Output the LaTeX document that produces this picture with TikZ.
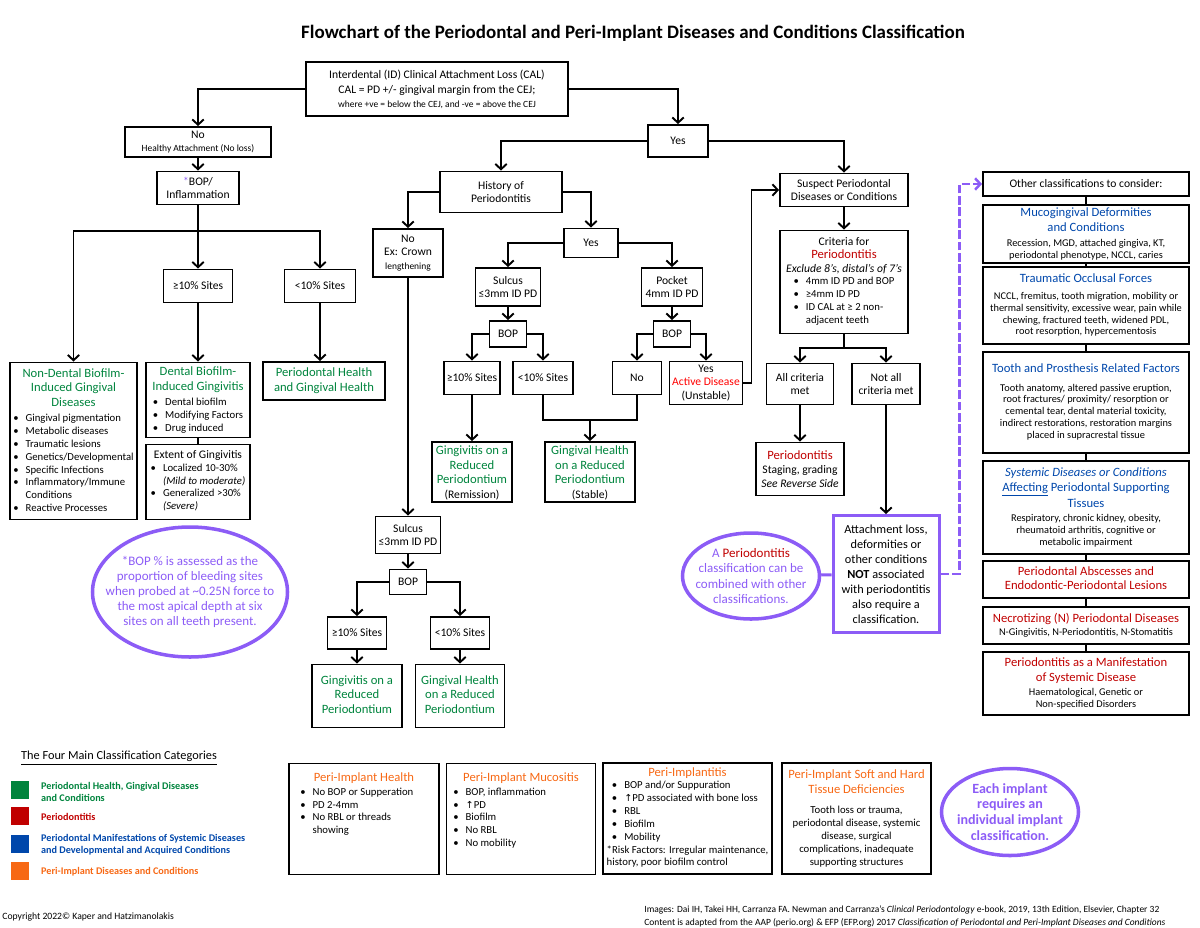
\documentclass[tikz,border=0pt]{standalone}
\usepackage{fontspec}
\setmainfont{Carlito}
\newfontfamily\arrowfont{DejaVu Sans}
\usetikzlibrary{arrows.meta,shapes.geometric}

\definecolor{healthgreen}{RGB}{0,132,61}
\definecolor{periored}{RGB}{192,0,0}
\definecolor{systblue}{RGB}{0,71,171}
\definecolor{implorange}{RGB}{247,104,20}
\definecolor{notepurple}{RGB}{140,92,246}
\definecolor{alarmred}{RGB}{255,0,0}

\newcommand{\headsize}{\fontsize{7.2}{8.4}\selectfont}
\newcommand{\listsize}{\fontsize{6.1}{7.3}\selectfont}
\newcommand{\notesize}{\fontsize{5.9}{6.8}\selectfont}
\newcommand{\finesize}{\fontsize{5.4}{6.4}\selectfont}
\newcommand{\bul}{\makebox[7pt][l]{\textbullet}}
\newcommand{\indt}{\hspace*{7pt}}
\newcommand{\uparr}{{\arrowfont\fontsize{5.5}{6}\selectfont ↑}}
\newcommand{\heading}[2]{\textcolor{#1}{\headsize\begin{tabular}{@{}c@{}}#2\end{tabular}}}
\newcommand{\items}[1]{{\listsize\begin{tabular}{@{}l@{}}#1\end{tabular}}}
\newcommand{\details}[2][\notesize]{{#1\begin{tabular}{@{}c@{}}#2\end{tabular}}}

\begin{document}
\begin{tikzpicture}[x=0.02cm, y=-0.02cm, >={Straight Barb[length=3pt,width=6.5pt]},
  every node/.style={font=\fontsize{6.6}{7.8}\selectfont},
  box/.style={draw, line width=1.1pt, align=center, inner sep=1pt},
  boxsize/.style 2 args={minimum width=#1*0.02cm, minimum height=#2*0.02cm},
  link/.style={line width=1.1pt},
  flow/.style={->, line width=1.1pt},
  oval/.style={ellipse, draw=notepurple, line width=2pt, text=notepurple,
               align=center, inner xsep=-14pt, inner ysep=-3pt},
  key/.style={minimum size=18*0.02cm, inner sep=0pt}]
\useasboundingbox (0,0) rectangle (1200,927);

\node[font=\fontsize{10.8}{12}\selectfont\bfseries] (title) at (633,33)
  {Flowchart of the Periodontal and Peri-Implant Diseases and Conditions Classification};

% first question
\node[box, boxsize={262}{54}] (cal) at (437,89)
  {Interdental (ID) Clinical Attachment Loss (CAL)\\[1pt]
   CAL = PD +/- gingival margin from the CEJ;\\
   {\finesize where +ve = below the CEJ, and -ve = above the CEJ}};
\node[box, boxsize={146}{30}] (noloss) at (198,142)
  {No\\{\finesize Healthy Attachment (No loss)}};
\node[box, boxsize={60}{32}] (yesloss) at (678,141) {Yes};

% healthy attachment branch
\node[box, boxsize={82}{33}] (bop) at (198,188) {\textcolor{notepurple}{*}BOP/\\Inflammation};
\coordinate (bopsplit) at (198,231);
\node[box, boxsize={69}{33}] (manyA) at (198,286) {≥10\% Sites};
\node[box, boxsize={71}{33}] (fewA) at (320,286) {<10\% Sites};
\node[box, boxsize={127}{157}] (nondental) at (73.5,441)
  {\heading{healthgreen}{Non-Dental Biofilm-\\Induced Gingival\\Diseases}\\
   \items{\bul Gingival pigmentation\\ \bul Metabolic diseases\\ \bul Traumatic lesions\\
          \bul Genetics/Developmental\\ \bul Specific Infections\\ \bul Inflammatory/Immune\\
          \indt Conditions\\ \bul Reactive Processes}};
\node[box, boxsize={104}{75}] (dental) at (198,400)
  {\heading{healthgreen}{Dental Biofilm-\\Induced Gingivitis}\\
   \items{\bul Dental biofilm\\ \bul Modifying Factors\\ \bul Drug induced}};
\node[box, boxsize={104}{75}] (extent) at (198,482)
  {Extent of Gingivitis\\
   \items{\bul Localized 10-30\%\\ \indt\textit{(Mild to moderate)}\\
          \bul Generalized >30\%\\ \indt\textit{(Severe)}}};
\node[box, boxsize={122}{38}, text=healthgreen, font=\headsize] (gumhealth) at (324,381)
  {Periodontal Health\\and Gingival Health};

% attachment loss branch
\node[box, boxsize={122}{41}] (history) at (501,192) {History of\\Periodontitis};
\node[box, boxsize={70}{48}] (nohistory) at (408,253)
  {No\\Ex: Crown\\{\finesize lengthening}};
\node[box, boxsize={54}{29}] (yeshistory) at (591,243) {Yes};
\node[box, boxsize={65}{38}] (sulcusA) at (508,287) {Sulcus\\≤3mm ID PD};
\node[box, boxsize={61}{38}] (pocket) at (672,287) {Pocket\\4mm ID PD};
\node[box, boxsize={37}{26}] (bopA) at (508,334) {BOP};
\node[box, boxsize={37}{26}] (bopB) at (672,334) {BOP};
\node[box, boxsize={56}{33}] (manyB) at (472,378) {≥10\% Sites};
\node[box, boxsize={60}{33}] (fewB) at (543,378) {<10\% Sites};
\node[box, boxsize={49}{33}] (nobleed) at (637,378) {No};
\node[box, boxsize={73}{43}] (active) at (706,383)
  {Yes\\\textcolor{alarmred}{Active Disease}\\(Unstable)};
\coordinate (stablejoin) at (590,420);
\node[box, boxsize={80}{60}] (remission) at (472,472)
  {\heading{healthgreen}{Gingivitis on a\\Reduced\\Periodontium}\\(Remission)};
\node[box, boxsize={90}{60}] (stable) at (590,472)
  {\heading{healthgreen}{Gingival Health\\on a Reduced\\Periodontium}\\(Stable)};

% no history of periodontitis
\node[box, boxsize={65}{37}] (sulcusC) at (408,535) {Sulcus\\≤3mm ID PD};
\node[box, boxsize={37}{25}] (bopC) at (408,582) {BOP};
\node[box, boxsize={59}{32}] (manyC) at (357,633) {≥10\% Sites};
\node[box, boxsize={59}{32}] (fewC) at (460,633) {<10\% Sites};
\node[box, boxsize={90}{63}] (remissionC) at (357,696)
  {\heading{healthgreen}{Gingivitis on a\\Reduced\\Periodontium}};
\node[box, boxsize={89}{63}] (stableC) at (460,696)
  {\heading{healthgreen}{Gingival Health\\on a Reduced\\Periodontium}};
\node[oval, minimum width=195*0.02cm, minimum height=130*0.02cm, inner xsep=-24pt,
      font=\fontsize{7.4}{8.6}\selectfont] (bopnote) at (190,592)
  {*BOP \% is assessed as the\\proportion of bleeding sites\\
   when probed at \textasciitilde0.25N force to\\the most apical depth at six\\
   sites on all teeth present.};

% suspected disease
\node[box, boxsize={128}{33}] (suspect) at (844,190) {Suspect Periodontal\\Diseases or Conditions};
\node[box, boxsize={128}{103}] (criteria) at (844,282)
  {Criteria for\\\textcolor{periored}{\headsize Periodontitis}\\
   \textit{Exclude 8's, distal's of 7's}\\
   \items{\bul 4mm ID PD and BOP\\ \bul ≥4mm ID PD\\ \bul ID CAL at ≥ 2 non-\\ \indt adjacent teeth}};
\coordinate (critsplit) at (844,348);
\node[box, boxsize={67}{41}] (allmet) at (800,384) {All criteria\\met};
\node[box, boxsize={68}{41}] (notall) at (886,384) {Not all\\criteria met};
\node[box, boxsize={88}{53}] (staging) at (800,469)
  {\textcolor{periored}{\headsize Periodontitis}\\Staging, grading\\\textit{See Reverse Side}};
\node[box, draw=notepurple, line width=1.7pt, boxsize={106}{117},
      font=\fontsize{7}{8.5}\selectfont] (attach) at (886,574)
  {Attachment loss,\\deformities or\\other conditions\\\textbf{NOT} associated\\
   with periodontitis\\also require a\\classification.};
\node[oval, minimum width=137*0.02cm, minimum height=86*0.02cm,
      font=\fontsize{7.4}{8.7}\selectfont] (combine) at (751,576)
  {A \textcolor{periored}{Periodontitis}\\classification can be\\combined with other\\classifications.};

% other classifications
\node[box, boxsize={206}{24}] (other) at (1086,184) {Other classifications to consider:};
\node[box, boxsize={206}{54}] (muco) at (1086,234)
  {\heading{systblue}{Mucogingival Deformities\\and Conditions}\\
   \details{Recession, MGD, attached gingiva, KT,\\periodontal phenotype, NCCL, caries}};
\node[box, boxsize={206}{77}] (trauma) at (1086,305.5)
  {\heading{systblue}{Traumatic Occlusal Forces}\\[1pt]
   \details{NCCL, fremitus, tooth migration, mobility or\\thermal sensitivity, excessive wear, pain while\\
            chewing, fractured teeth, widened PDL,\\root resorption, hypercementosis}};
\node[box, boxsize={206}{101}] (prosth) at (1086,402.5)
  {\heading{systblue}{Tooth and Prosthesis Related Factors}\\[2pt]
   \details{Tooth anatomy, altered passive eruption,\\root fractures/ proximity/ resorption or\\
            cemental tear, dental material toxicity,\\indirect restorations, restoration margins\\
            placed in supracrestal tissue}};
\node[box, boxsize={206}{93}] (systemic) at (1086,507.5)
  {\heading{systblue}{\textit{Systemic Diseases or Conditions}\\
                      \underline{Affecting} Periodontal Supporting\\Tissues}\\
   \details{Respiratory, chronic kidney, obesity,\\rheumatoid arthritis, cognitive or\\metabolic impairment}};
\node[box, boxsize={206}{37}] (abscess) at (1086,579.5)
  {\heading{periored}{Periodontal Abscesses and\\Endodontic-Periodontal Lesions}};
\node[box, boxsize={206}{37}] (necro) at (1086,625.5)
  {\heading{periored}{Necrotizing (N) Periodontal Diseases}\\
   \details{N-Gingivitis, N-Periodontitis, N-Stomatitis}};
\node[box, boxsize={206}{63}] (manifest) at (1086,683.5)
  {\heading{periored}{Periodontitis as a Manifestation\\of Systemic Disease}\\
   \details{Haematological, Genetic or\\Non-specified Disorders}};

% connectors
\draw[flow] (cal.west) -| (noloss.north);
\draw[flow] (cal.east) -| (yesloss.north);
\draw[flow] (noloss) -- (bop);
\draw[link] (bop) -- (bopsplit);
\draw[flow] (bopsplit) -| (nondental.north);
\draw[flow] (bopsplit) -- (manyA);
\draw[flow] (bopsplit) -| (fewA.north);
\draw[flow] (manyA) -- (dental);
\draw[flow] (fewA.south) -- (fewA.south |- gumhealth.north);
\draw[link] (dental) -- (extent);
\draw[flow] (yesloss.west) -| (history.north);
\draw[flow] (yesloss.east) -| (suspect.north);
\draw[flow] (history.west) -| (nohistory.north);
\draw[flow] (history.east) -| (yeshistory.north);
\draw[flow] (yeshistory.west) -| (sulcusA.north);
\draw[flow] (yeshistory.east) -| (pocket.north);
\draw[flow] (sulcusA) -- (bopA);
\draw[flow] (pocket) -- (bopB);
\draw[flow] (bopA.west) -| (manyB.north);
\draw[flow] (bopA.east) -| (fewB.north);
\draw[flow] (bopB.west) -| (nobleed.north);
\draw[flow] (bopB.east) -| (active.north);
\draw[flow] (manyB) -- (remission);
\draw[link] (fewB.south) |- (stablejoin) -| (nobleed.south);
\draw[flow] (stablejoin) -- (stable);
\draw[flow] (active.east) -- ++(8,0) |- (suspect.west);
\draw[flow] (nohistory) -- (sulcusC);
\draw[flow] (sulcusC) -- (bopC);
\draw[flow] (bopC.west) -| (manyC.north);
\draw[flow] (bopC.east) -| (fewC.north);
\draw[flow] (manyC) -- (remissionC);
\draw[flow] (fewC) -- (stableC);
\draw[flow] (suspect) -- (criteria);
\draw[link] (criteria) -- (critsplit);
\draw[flow] (critsplit) -| (allmet.north);
\draw[flow] (critsplit) -| (notall.north);
\draw[flow] (allmet) -- (staging);
\draw[flow] (notall) -- (attach);
\draw[notepurple, line width=1.7pt] (combine) -- (attach);
\draw[flow, notepurple, line width=1.4pt, dash pattern=on 5pt off 1.5pt]
  (attach.east) -- ++(19,0) |- (other.west);
\foreach \a/\b in {other/muco, muco/trauma, trauma/prosth, prosth/systemic,
                   systemic/abscess, abscess/necro, necro/manifest}
  \draw[link] (\a) -- (\b);

% legend
\node[anchor=west, font=\fontsize{7}{8}\selectfont] (keytitle) at (15,758)
  {\underline{The Four Main Classification Categories}};
\node[key, fill=healthgreen] (keygreen) at (20,790) {};
\node[key, fill=periored] (keyred) at (20,816) {};
\node[key, fill=systblue] (keyblue) at (20,843.5) {};
\node[key, fill=implorange] (keyorange) at (20,871) {};
\node[anchor=west, align=left, text=healthgreen, font=\fontsize{5.8}{6.9}\selectfont\bfseries]
  (txtgreen) at (35,792) {Periodontal Health, Gingival Diseases\\and Conditions};
\node[anchor=west, align=left, text=periored, font=\fontsize{5.8}{6.9}\selectfont\bfseries]
  (txtred) at (35,817) {Periodontitis};
\node[anchor=west, align=left, text=systblue, font=\fontsize{5.8}{6.9}\selectfont\bfseries]
  (txtblue) at (35,845) {Periodontal Manifestations of Systemic Diseases\\and Developmental and Acquired Conditions};
\node[anchor=west, align=left, text=implorange, font=\fontsize{5.8}{6.9}\selectfont\bfseries]
  (txtorange) at (35,872) {Peri-Implant Diseases and Conditions};

% peri-implant boxes
\node[box, boxsize={150}{111}] (implhealth) at (364,819) {};
\node[anchor=north, text=implorange, font=\headsize] (implhealthhead) at ([yshift=-2pt]implhealth.north)
  {Peri-Implant Health};
\node[anchor=north west, inner sep=0pt] (implhealthlist) at (300,786)
  {\items{\bul No BOP or Supperation\\ \bul PD 2-4mm\\ \bul No RBL or threads\\ \indt showing}};
\node[box, boxsize={149}{111}] (mucositis) at (521,819) {};
\node[anchor=north, text=implorange, font=\headsize] (mucositishead) at ([yshift=-2pt]mucositis.north)
  {Peri-Implant Mucositis};
\node[anchor=north west, inner sep=0pt] (mucositislist) at (453,786)
  {\items{\bul BOP, inflammation\\ \bul \uparr PD\\ \bul Biofilm\\ \bul No RBL\\ \bul No mobility}};
\node[box, boxsize={169}{111}] (implantitis) at (687.5,818.5)
  {\textcolor{implorange}{\headsize Peri-Implantitis}\\
   \items{\hspace*{3pt}\bul BOP and/or Suppuration\\ \hspace*{3pt}\bul \uparr PD associated with bone loss\\
          \hspace*{3pt}\bul RBL\\ \hspace*{3pt}\bul Biofilm\\ \hspace*{3pt}\bul Mobility\\
          {*}Risk Factors: Irregular maintenance,\\ history, poor biofilm control}};
\node[box, boxsize={149}{111}] (deficiency) at (856.5,818.5)
  {\heading{implorange}{Peri-Implant Soft and Hard\\Tissue Deficiencies}\\[3pt]
   \details[\listsize]{Tooth loss or trauma,\\periodontal disease, systemic\\disease, surgical\\
                       complications, inadequate\\supporting structures}};
\node[oval, minimum width=137*0.02cm, minimum height=87*0.02cm,
      font=\fontsize{8}{9}\selectfont\bfseries] (eachimplant) at (1010,812)
  {Each implant\\requires an\\individual implant\\classification.};

% footer
\node[anchor=west, inner sep=0pt, font=\fontsize{5.5}{6.5}\selectfont] (copyright) at (2,917)
  {Copyright 2022© Kaper and Hatzimanolakis};
\node[anchor=west, align=left, inner sep=0pt, font=\fontsize{5.4}{7.4}\selectfont] (sources) at (644,916.5)
  {Images: Dai IH, Takei HH, Carranza FA. Newman and Carranza's \textit{Clinical Periodontology} e-book, 2019, 13th Edition, Elsevier, Chapter 32\\
   Content is adapted from the AAP (perio.org) \& EFP (EFP.org) 2017 \textit{Classification of Periodontal and Peri-Implant Diseases and Conditions}};
\end{tikzpicture}
\end{document}
